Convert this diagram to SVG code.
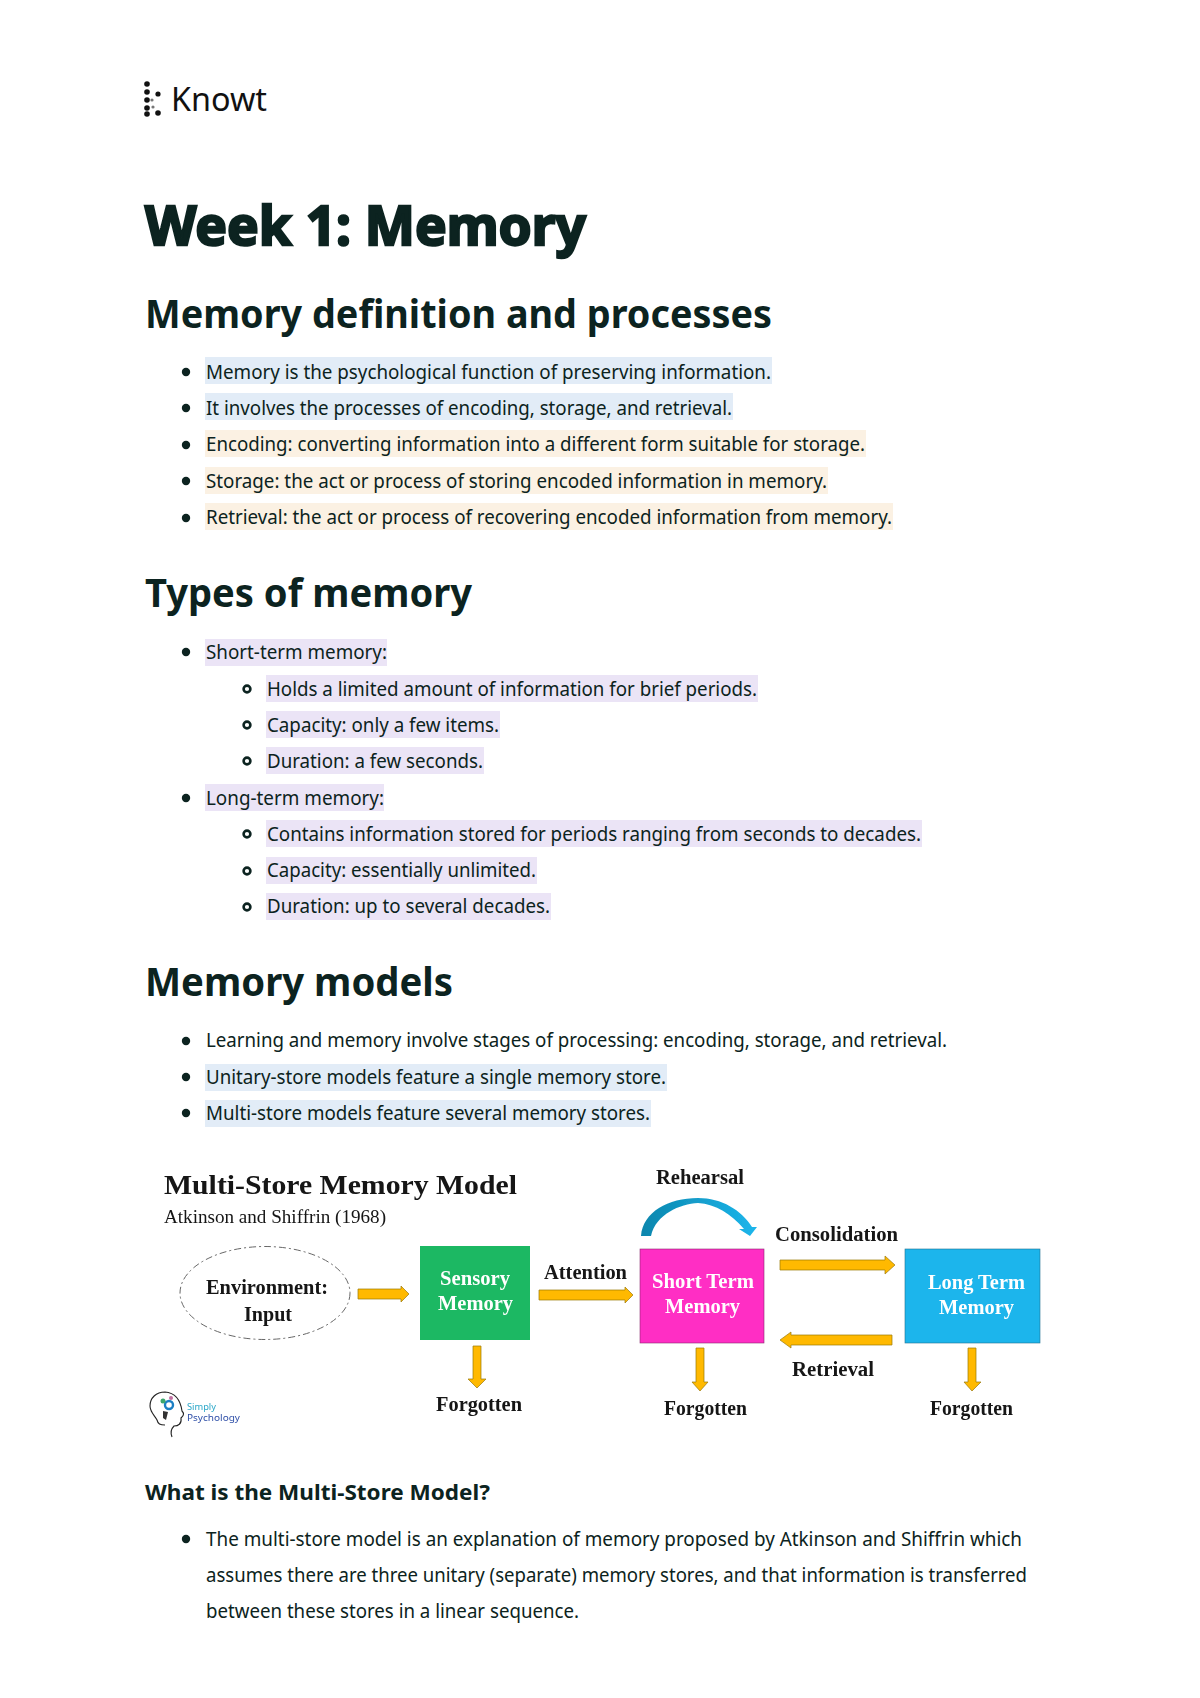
<svg xmlns="http://www.w3.org/2000/svg" width="1200" height="1698" viewBox="0 0 1200 1698">
<style>
text{font-family:"Noto Sans","Open Sans",sans-serif;fill:#0c2320}
.b{font-size:19.5px}
.h1{font-size:53px;font-weight:700;stroke:#0c2320;stroke-width:2.4px}
.h2{font-size:39px;font-weight:700}
.h3{font-size:21.5px;font-weight:700}
.hb{fill:#e2ecf7}.ho{fill:#fbf1e3}.hp{fill:#ebe4f6}
.d{fill:#0c2320}
.s{fill:#fff;stroke:#0c2320;stroke-width:2.6}
.f text{font-family:"Liberation Serif","Times New Roman",serif;fill:#141414;font-weight:700;font-size:20px}
.f text.w{fill:#fff;font-size:21px}
.f text.n{font-weight:400;font-size:19px}
.ar{fill:#ffb900;stroke:#9a7a10;stroke-width:.7}
</style>
<defs>
<linearGradient id="rg" x1="0" x2="1" y1="0" y2="0"><stop offset="0" stop-color="#0b86ad"/><stop offset="1" stop-color="#1cb6ec"/></linearGradient>
<filter id="soft" x="-5%" y="-5%" width="110%" height="110%"><feGaussianBlur stdDeviation="0.45"/></filter>
</defs>
<rect width="1200" height="1698" fill="#fff"/>

<g id="logo">
<circle cx="147" cy="84" r="2.8" fill="#111"/><circle cx="147" cy="92" r="2.8" fill="#111"/><circle cx="147" cy="100" r="2.8" fill="#111"/><circle cx="147" cy="108" r="2.8" fill="#111"/><circle cx="147" cy="114" r="2.8" fill="#111"/>
<circle cx="158" cy="94" r="2.6" fill="#111"/><circle cx="152" cy="100" r="1.6" fill="#777"/><circle cx="153" cy="107" r="1.6" fill="#777"/><circle cx="158" cy="113" r="2.8" fill="#111"/>
<text x="171" y="111" font-size="32" textLength="96" lengthAdjust="spacingAndGlyphs" style="fill:#111">Knowt</text>
</g>

<text class="h1" x="145" y="245" textLength="441" lengthAdjust="spacingAndGlyphs">Week 1: Memory</text>

<text class="h2" x="145" y="328" textLength="627" lengthAdjust="spacingAndGlyphs">Memory definition and processes</text>
<g id="definition-list">
<rect class="hb" x="205" y="357" width="567" height="27"/><rect class="hb" x="205" y="393" width="528" height="27"/>
<rect class="ho" x="205" y="430" width="661" height="27"/><rect class="ho" x="205" y="467" width="623" height="27"/><rect class="ho" x="205" y="503" width="688" height="27"/>
<circle class="d" cx="186" cy="372" r="4.2"/><circle class="d" cx="186" cy="408" r="4.2"/><circle class="d" cx="186" cy="445" r="4.2"/><circle class="d" cx="186" cy="481" r="4.2"/><circle class="d" cx="186" cy="518" r="4.2"/>
<text class="b" x="206" y="379" textLength="565" lengthAdjust="spacingAndGlyphs">Memory is the psychological function of preserving information.</text>
<text class="b" x="206" y="415" textLength="526" lengthAdjust="spacingAndGlyphs">It involves the processes of encoding, storage, and retrieval.</text>
<text class="b" x="206" y="451" textLength="659" lengthAdjust="spacingAndGlyphs">Encoding: converting information into a different form suitable for storage.</text>
<text class="b" x="206" y="488" textLength="621" lengthAdjust="spacingAndGlyphs">Storage: the act or process of storing encoded information in memory.</text>
<text class="b" x="206" y="524" textLength="686" lengthAdjust="spacingAndGlyphs">Retrieval: the act or process of recovering encoded information from memory.</text>
</g>

<text class="h2" x="145" y="607" textLength="327" lengthAdjust="spacingAndGlyphs">Types of memory</text>
<g id="types-list">
<rect class="hp" x="205" y="639" width="182" height="27"/><rect class="hp" x="266" y="675" width="492" height="27"/><rect class="hp" x="266" y="711" width="234" height="27"/><rect class="hp" x="266" y="747" width="218" height="27"/>
<rect class="hp" x="205" y="784" width="179" height="27"/><rect class="hp" x="266" y="820" width="656" height="27"/><rect class="hp" x="266" y="857" width="271" height="27"/><rect class="hp" x="266" y="893" width="285" height="27"/>
<circle class="d" cx="186" cy="652" r="4.2"/><circle class="d" cx="186" cy="798" r="4.2"/>
<circle class="s" cx="247" cy="689" r="3.4"/><circle class="s" cx="247" cy="725" r="3.4"/><circle class="s" cx="247" cy="761" r="3.4"/><circle class="s" cx="247" cy="834" r="3.4"/><circle class="s" cx="247" cy="871" r="3.4"/><circle class="s" cx="247" cy="907" r="3.4"/>
<text class="b" x="206" y="659" textLength="181" lengthAdjust="spacingAndGlyphs">Short-term memory:</text>
<text class="b" x="267" y="696" textLength="490" lengthAdjust="spacingAndGlyphs">Holds a limited amount of information for brief periods.</text>
<text class="b" x="267" y="732" textLength="232" lengthAdjust="spacingAndGlyphs">Capacity: only a few items.</text>
<text class="b" x="267" y="768" textLength="216" lengthAdjust="spacingAndGlyphs">Duration: a few seconds.</text>
<text class="b" x="206" y="805" textLength="178" lengthAdjust="spacingAndGlyphs">Long-term memory:</text>
<text class="b" x="267" y="841" textLength="654" lengthAdjust="spacingAndGlyphs">Contains information stored for periods ranging from seconds to decades.</text>
<text class="b" x="267" y="877" textLength="269" lengthAdjust="spacingAndGlyphs">Capacity: essentially unlimited.</text>
<text class="b" x="267" y="913" textLength="283" lengthAdjust="spacingAndGlyphs">Duration: up to several decades.</text>
</g>

<text class="h2" x="145" y="996" textLength="308" lengthAdjust="spacingAndGlyphs">Memory models</text>
<g id="models-list">
<rect class="hb" x="205" y="1064" width="462" height="27"/><rect class="hb" x="205" y="1100" width="446" height="27"/>
<circle class="d" cx="186" cy="1041" r="4.2"/><circle class="d" cx="186" cy="1077" r="4.2"/><circle class="d" cx="186" cy="1113" r="4.2"/>
<text class="b" x="206" y="1047" textLength="741" lengthAdjust="spacingAndGlyphs">Learning and memory involve stages of processing: encoding, storage, and retrieval.</text>
<text class="b" x="206" y="1084" textLength="460" lengthAdjust="spacingAndGlyphs">Unitary-store models feature a single memory store.</text>
<text class="b" x="206" y="1120" textLength="444" lengthAdjust="spacingAndGlyphs">Multi-store models feature several memory stores.</text>
</g>

<g class="f" filter="url(#soft)">
<text x="164" y="1194" textLength="353" lengthAdjust="spacingAndGlyphs" style="font-size:27px">Multi-Store Memory Model</text>
<text class="n" x="164" y="1223" textLength="222" lengthAdjust="spacingAndGlyphs">Atkinson and Shiffrin (1968)</text>

<g id="connectors">
<polygon class="ar" points="358,1289 401,1289 401,1286 409,1294 401,1302 401,1299 358,1299"/>
<polygon class="ar" points="539,1290 625,1290 625,1287 633,1295 625,1303 625,1300 539,1300"/>
<polygon class="ar" points="780,1260 885,1260 885,1256 895,1265 885,1274 885,1270 780,1270"/>
<polygon class="ar" points="892,1335 791,1335 791,1332 780,1340 791,1348 791,1345 892,1345"/>
<polygon class="ar" points="473,1346 481,1346 481,1379 486,1379 477,1388 468,1379 473,1379"/>
<polygon class="ar" points="696,1348 704,1348 704,1382 708,1382 700,1391 692,1382 696,1382"/>
<polygon class="ar" points="968,1348 976,1348 976,1382 981,1382 972,1391 964,1382 968,1382"/>
<path d="M641 1236C643 1212 668 1198 698 1198C722 1198 741 1210 752 1227L757 1227L750 1236L739 1229L744 1229C731 1214 716 1204 698 1203C680 1204 656 1214 651 1236Z" fill="url(#rg)"/>
</g>

<g id="environment">
<ellipse cx="265" cy="1293" rx="85" ry="46.5" fill="#fff" stroke="#666" stroke-width="1" stroke-dasharray="7 3 2 3"/>
<text x="206" y="1294" textLength="122" lengthAdjust="spacingAndGlyphs">Environment:</text>
<text x="244" y="1321" textLength="48" lengthAdjust="spacingAndGlyphs">Input</text>
</g>
<g id="sensory-memory">
<rect x="420" y="1246" width="110" height="94" fill="#1fb863"/>
<text class="w" x="440" y="1285" textLength="70" lengthAdjust="spacingAndGlyphs">Sensory</text>
<text class="w" x="438" y="1310" textLength="75" lengthAdjust="spacingAndGlyphs">Memory</text>
</g>
<g id="short-term-memory">
<rect x="640" y="1249" width="124" height="94" fill="#ff2ec4" stroke="#8a2a70" stroke-width=".6"/>
<text class="w" x="652" y="1288" textLength="102" lengthAdjust="spacingAndGlyphs">Short Term</text>
<text class="w" x="665" y="1313" textLength="75" lengthAdjust="spacingAndGlyphs">Memory</text>
</g>
<g id="long-term-memory">
<rect x="905" y="1249" width="135" height="94" fill="#1bb5ec" stroke="#27708f" stroke-width=".6"/>
<text class="w" x="928" y="1289" textLength="97" lengthAdjust="spacingAndGlyphs">Long Term</text>
<text class="w" x="939" y="1314" textLength="75" lengthAdjust="spacingAndGlyphs">Memory</text>
</g>

<text x="656" y="1184" textLength="88" lengthAdjust="spacingAndGlyphs">Rehearsal</text>
<text x="544" y="1279" textLength="83" lengthAdjust="spacingAndGlyphs">Attention</text>
<text x="775" y="1241" textLength="123" lengthAdjust="spacingAndGlyphs">Consolidation</text>
<text x="792" y="1376" textLength="82" lengthAdjust="spacingAndGlyphs">Retrieval</text>
<text x="436" y="1411" textLength="86" lengthAdjust="spacingAndGlyphs">Forgotten</text>
<text x="664" y="1415" textLength="83" lengthAdjust="spacingAndGlyphs">Forgotten</text>
<text x="930" y="1415" textLength="83" lengthAdjust="spacingAndGlyphs">Forgotten</text>

<g id="simply-psychology">
<path d="M172 1437C170 1432 172 1428 174 1426C178 1426 182 1424 181 1418C183 1416 185 1414 182 1411C181 1404 178 1393 165 1392C156 1392 150 1398 150 1406C150 1412 155 1416 157 1420C158 1424 160 1425 165 1425" fill="none" stroke="#222" stroke-width="1.1"/>
<circle cx="169" cy="1405" r="4" fill="none" stroke="#1a7fc4" stroke-width="2.4"/>
<circle cx="163" cy="1401" r="2.5" fill="#3aa76d"/><circle cx="171" cy="1398" r="2" fill="#c06fa0"/><path d="M163 1411l5 1l-2 8l-3-2z" fill="#333"/>
<text x="187" y="1410" textLength="29" lengthAdjust="spacingAndGlyphs" style="font-family:'Noto Sans',sans-serif;font-size:9.5px;font-weight:400;fill:#2aa6c8">Simply</text>
<text x="187" y="1421" textLength="53" lengthAdjust="spacingAndGlyphs" style="font-family:'Noto Sans',sans-serif;font-size:9.5px;font-weight:400;fill:#2f4fa8">Psychology</text>
</g>
</g>

<text class="h3" x="145" y="1500" textLength="345" lengthAdjust="spacingAndGlyphs">What is the Multi-Store Model?</text>
<g id="paragraph">
<circle class="d" cx="186" cy="1539" r="4.2"/>
<text class="b" x="206" y="1546" textLength="816" lengthAdjust="spacingAndGlyphs">The multi-store model is an explanation of memory proposed by Atkinson and Shiffrin which</text>
<text class="b" x="206" y="1582" textLength="821" lengthAdjust="spacingAndGlyphs">assumes there are three unitary (separate) memory stores, and that information is transferred</text>
<text class="b" x="206" y="1618" textLength="373" lengthAdjust="spacingAndGlyphs">between these stores in a linear sequence.</text>
</g>
</svg>
